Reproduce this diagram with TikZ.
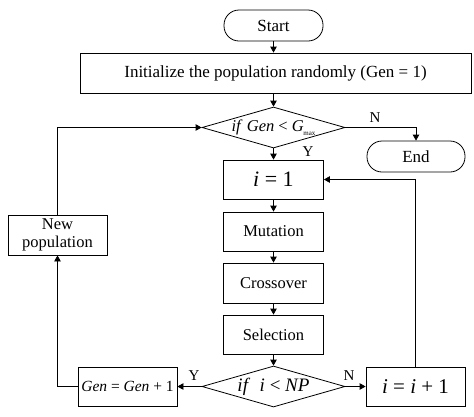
\documentclass[tikz,border=0pt]{standalone}
\usepackage{fontspec}
\setmainfont{Liberation Serif}
\usetikzlibrary{arrows.meta,shapes.geometric}
\begin{document}
\begin{tikzpicture}[x=1pt,y=-1pt,
  every node/.style={font=\fontsize{16.5}{18}\selectfont},
  box/.style={draw,line width=0.8pt,rectangle,inner sep=0pt,align=center},
  term/.style={box,rounded corners=15pt},
  dec/.style={draw,line width=0.8pt,diamond,inner sep=0pt,minimum width=143pt,minimum height=41pt,aspect=3.49},
  conn/.style={line width=0.8pt,-{Triangle[length=6pt,width=6.5pt]}},
  lbl/.style={font=\fontsize{15}{16}\selectfont,inner sep=0pt}]
\useasboundingbox (0,0) rectangle (474,416);
\node[term,minimum width=99pt,minimum height=31pt,font=\fontsize{17}{19}\selectfont] (start) at (273.5,25.5) {Start};
\node[box,minimum width=391pt,minimum height=40pt,font=\fontsize{17}{19}\selectfont] (init) at (275.5,73) {Initialize the population randomly (Gen = 1)};
\node[dec,font=\fontsize{16.5}{18}\selectfont] (d1) at (273.5,127.5) {\textit{if}\ \textit{Gen} < \textit{G}\kern-0.5pt\raisebox{-0.6ex}{\fontsize{7}{8}\selectfont max}};
\node[term,minimum width=98pt,minimum height=31pt,font=\fontsize{17}{19}\selectfont] (end) at (416,156.5) {End};
\node[box,minimum width=100pt,minimum height=39pt,font=\fontsize{22}{24}\selectfont] (i1) at (273.5,179.5) {\textit{i} = 1};
\node[box,minimum width=100pt,minimum height=39pt] (mut) at (273.5,231.5) {Mutation};
\node[box,minimum width=100pt,minimum height=40pt] (cross) at (273.5,283) {Crossover};
\node[box,minimum width=100pt,minimum height=39pt] (sel) at (273.5,334.5) {Selection};
\node[dec,font=\fontsize{19}{22}\selectfont] (d2) at (273.5,386.5) {\textit{if}\ \ \textit{i} < \textit{NP}};
\node[box,minimum width=99pt,minimum height=39pt,font=\fontsize{15.5}{17}\selectfont] (gen) at (127.5,386.5) {\textit{Gen} = \textit{Gen} + 1};
\node[box,minimum width=99pt,minimum height=39pt,font=\fontsize{21}{24}\selectfont] (inc) at (415.5,386.5) {\textit{i} = \textit{i} + 1};
\node[box,minimum width=99pt,minimum height=40pt,font=\fontsize{16.5}{18}\selectfont] (newpop) at (57.5,235) {New\\population};
\draw[conn] (start) -- (start |- init.north);
\draw[conn] (start |- init.south) -- (d1.north);
\draw[conn] (d1.east) -| (end.north);
\draw[conn] (d1.south) -- (i1.north);
\draw[conn] (i1) -- (mut);
\draw[conn] (mut) -- (cross);
\draw[conn] (cross) -- (sel);
\draw[conn] (sel) -- (d2.north);
\draw[conn] (d2.west) -- (gen.east);
\draw[conn] (d2.east) -- (inc.west);
\draw[conn] (inc.north) |- (i1.east);
\draw[conn] (gen.west) -| (newpop.south);
\draw[conn] (newpop.north) |- (d1.west);
\node[lbl] (n1) at (375,118) {N};
\node[lbl] (y1) at (308,152) {Y};
\node[lbl] (y2) at (194,376) {Y};
\node[lbl] (n2) at (349,376) {N};
\end{tikzpicture}
\end{document}
